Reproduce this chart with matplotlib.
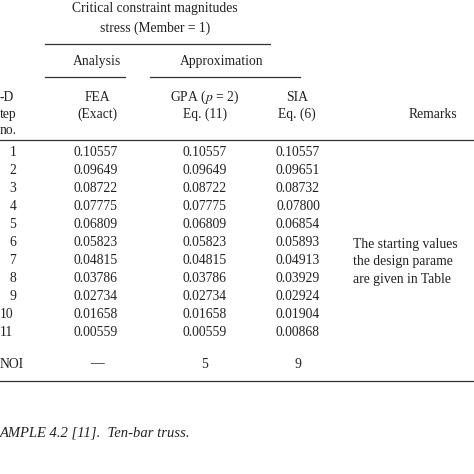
import matplotlib
matplotlib.use("Agg")
import matplotlib.pyplot as plt
plt.rcParams["mathtext.fontset"] = "stix"

rows = ["1","2","3","4","5","6","7","8","9","10","11"]
fea = ["0.10557","0.09649","0.08722","0.07775","0.06809","0.05823","0.04815","0.03786","0.02734","0.01658","0.00559"]
gpa = ["0.10557","0.09649","0.08722","0.07775","0.06809","0.05823","0.04815","0.03786","0.02734","0.01658","0.00559"]
sia = ["0.10557","0.09651","0.08732","0.07800","0.06854","0.05893","0.04913","0.03929","0.02924","0.01904","0.00868"]
noi = ["NOI", "—", "5", "9"]
remarks = ["The starting values", "the design parame", "are given in Table"]

fig = plt.figure(figsize=(4.74, 4.74), dpi=100)
ax = fig.add_axes([0, 0, 1, 1])
ax.set_xlim(0, 474); ax.set_ylim(474, 0); ax.axis("off")
F = dict(family="Liberation Serif", fontsize=9.8, color="#222222")

def t(x, y, s, ha="center", **kw):
    d = dict(F); d.update(kw)
    ax.text(x, y, s, ha=ha, va="center", **d)

def hl(y, x0, x1):
    ax.plot([x0, x1], [y, y], color="#333333", lw=0.9)

t(155, 8, "Critical constraint magnitudes")
t(155, 28, "stress (Member = 1)")
hl(44, 45, 270)
t(97, 61, "Analysis"); t(222, 61, "Approximation")
hl(77, 45, 125); hl(77, 150, 300)
t(0, 97, "-D", ha="left"); t(0, 114, "tep", ha="left"); t(0, 131, "no.", ha="left")
t(97, 97, "FEA"); t(97, 114, "(Exact)")
t(205, 97, "GPA ($\\mathit{p}$ = 2)"); t(205, 114, "Eq. (11)")
t(297, 97, "SIA"); t(297, 114, "Eq. (6)")
t(433, 114, "Remarks")
hl(140, 0, 474)
for i, r in enumerate(rows):
    y = 152 + i * 18.1
    t(13, y, r, ha="right" if len(r) > 1 else "center")
    t(96, y, fea[i]); t(205, y, gpa[i]); t(298, y, sia[i])
for j, s in enumerate(remarks):
    t(353, 244 + j * 18, s, ha="left")
t(0, 364, noi[0], ha="left"); t(97, 364, noi[1]); t(205, 364, noi[2]); t(298, 364, noi[3])
hl(381, 0, 474)
t(0, 433, "AMPLE 4.2 [11].  Ten-bar truss.", ha="left", style="italic", fontsize=10.5)
fig.savefig("out.png", dpi=100)
